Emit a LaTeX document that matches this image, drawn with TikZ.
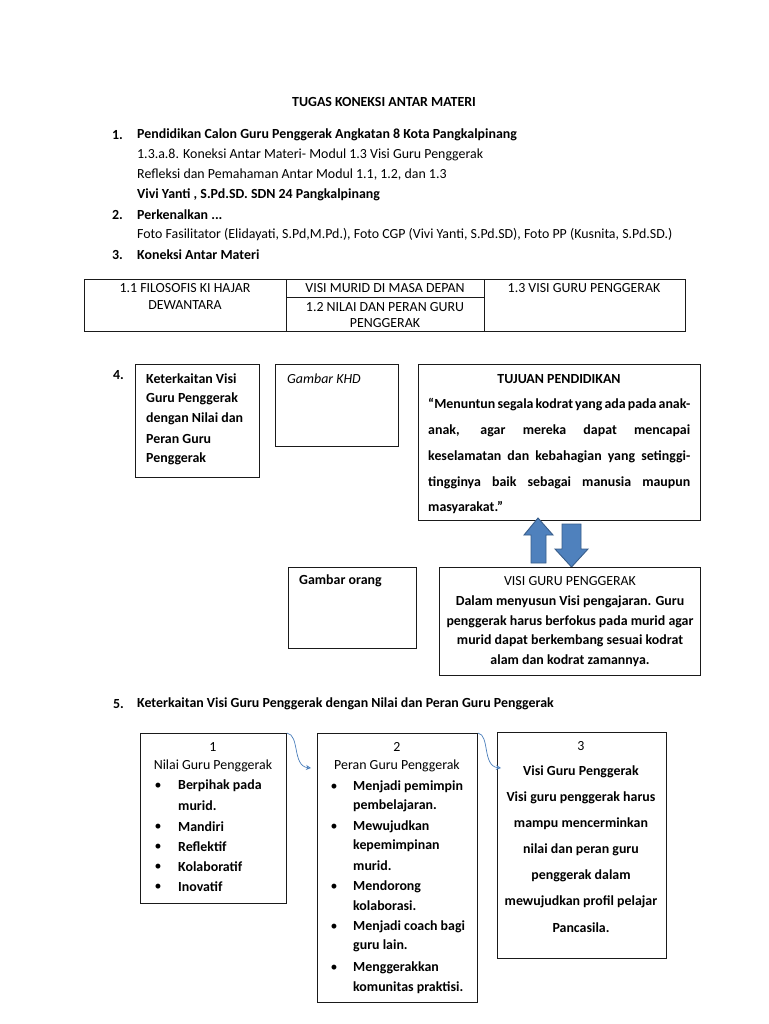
\documentclass[tikz,border=0pt]{standalone}
\usepackage{fontspec}
\setmainfont{Carlito}
\usetikzlibrary{arrows.meta}
\definecolor{boxline}{HTML}{1A1A1A}
\definecolor{arrfill}{HTML}{4F81BD}
\definecolor{arrline}{HTML}{385D8A}
\definecolor{curvecol}{HTML}{4A7EBB}
\newcommand\fsz{\fontsize{13.9}{16}\selectfont}
\tikzset{
  txt/.style={anchor=west, inner sep=0pt, font=\fsz},
  btxt/.style={anchor=west, inner sep=0pt, font=\fsz\bfseries},
  ctxt/.style={anchor=center, inner sep=0pt, font=\fsz},
  cbtxt/.style={anchor=center, inner sep=0pt, font=\fsz\bfseries},
  bx/.style={draw=boxline, line width=0.9pt, anchor=north west, inner sep=0pt},
  blockarrow/.style={fill=arrfill, draw=arrline, line width=0.9pt, line join=miter},
  curvearrow/.style={draw=curvecol, line width=0.7pt, -{Stealth[length=5pt,width=5pt,open]}},
  bul/.style={anchor=center, inner sep=0pt, font=\fsz},
}
\begin{document}
\begin{tikzpicture}[x=1pt,y=-1pt]
\useasboundingbox[fill=white] (0,0) rectangle (768,1024);

% Title
\node[cbtxt] (title) at (384,102) {TUGAS KONEKSI ANTAR MATERI};

% Section 1-3
\node[btxt] (n1) at (112,135) {1.};
\node[btxt] (l1) at (137,135) {Pendidikan Calon Guru Penggerak Angkatan 8 Kota Pangkalpinang};
\node[txt] (l2) at (137,155) {1.3.a.8. Koneksi Antar Materi- Modul 1.3 Visi Guru Penggerak};
\node[txt] (l3) at (137,175) {Refleksi dan Pemahaman Antar Modul 1.1, 1.2, dan 1.3};
\node[btxt] (l4) at (137,195) {Vivi Yanti , S.Pd.SD. SDN 24 Pangkalpinang};
\node[btxt] (n2) at (112,215) {2.};
\node[btxt] (l5) at (137,215) {Perkenalkan ...};
\node[txt] (l6) at (137,235) {Foto Fasilitator (Elidayati, S.Pd,M.Pd.), Foto CGP (Vivi Yanti, S.Pd.SD), Foto PP (Kusnita, S.Pd.SD.)};
\node[btxt] (n3) at (112,255) {3.};
\node[btxt] (l7) at (137,255) {Koneksi Antar Materi};

% Table
\node[bx, minimum width=202pt, minimum height=52pt] (t1) at (84,279) {};
\node[bx, minimum width=198pt, minimum height=18pt] (t2a) at (286,279) {};
\node[bx, minimum width=198pt, minimum height=34pt] (t2b) at (286,297) {};
\node[bx, minimum width=201pt, minimum height=52pt] (t3) at (484,279) {};
\node[ctxt] (t1a) at (185,288) {1.1 FILOSOFIS KI HAJAR};
\node[ctxt] (t1b) at (185,305) {DEWANTARA};
\node[ctxt] (t2at) at (385,288) {VISI MURID DI MASA DEPAN};
\node[ctxt] (t2bt) at (385,307) {1.2 NILAI DAN PERAN GURU};
\node[ctxt] (t2bu) at (385,323) {PENGGERAK};
\node[ctxt] (t3t) at (584,288) {1.3 VISI GURU PENGGERAK};

% Section 4
\node[btxt] (n4) at (113,375) {4.};
\node[bx, minimum width=124pt, minimum height=113pt] (ba) at (135,364) {};
\node[btxt] (ba1) at (146,379) {Keterkaitan Visi};
\node[btxt] (ba2) at (146,399) {Guru Penggerak};
\node[btxt] (ba3) at (146,419) {dengan Nilai dan};
\node[btxt] (ba4) at (146,439) {Peran Guru};
\node[btxt] (ba5) at (146,459) {Penggerak};

\node[bx, minimum width=123pt, minimum height=82pt] (bb) at (275,364) {};
\node[txt, font=\fsz\itshape] (bb1) at (287,379) {Gambar KHD};

\node[bx, minimum width=282pt, minimum height=156pt] (bc) at (418,364) {};
\node[cbtxt] (bc0) at (559,379) {TUJUAN PENDIDIKAN};
\node[btxt] (bc1) at (428,405) {\makebox[262pt][s]{“Menuntun segala kodrat yang ada pada anak-}};
\node[btxt] (bc2) at (428,431) {\makebox[262pt][s]{anak, agar mereka dapat mencapai}};
\node[btxt] (bc3) at (428,457) {\makebox[262pt][s]{keselamatan dan kebahagian yang setinggi-}};
\node[btxt] (bc4) at (428,483) {\makebox[262pt][s]{tingginya baik sebagai manusia maupun}};
\node[btxt] (bc5) at (428,508) {masyarakat.”};

% Block arrows
\draw[blockarrow] (538,518) -- (553,535) -- (546,535) -- (546,563) -- (531,563) -- (531,535) -- (524,535) -- cycle;
\draw[blockarrow] (571.5,567) -- (588,549) -- (581,549) -- (581,524) -- (562,524) -- (562,549) -- (555,549) -- cycle;

\node[bx, minimum width=128pt, minimum height=81pt] (bd) at (288,567) {};
\node[btxt] (bd1) at (299,581) {Gambar orang};

\node[bx, minimum width=261pt, minimum height=108pt] (be) at (439,567) {};
\node[ctxt] (be0) at (570,581) {VISI GURU PENGGERAK};
\node[cbtxt] (be1) at (570,602) {Dalam menyusun Visi pengajaran. Guru};
\node[cbtxt] (be2) at (570,622) {penggerak harus berfokus pada murid agar};
\node[cbtxt] (be3) at (570,641) {murid dapat berkembang sesuai kodrat};
\node[cbtxt] (be4) at (570,661) {alam dan kodrat zamannya.};

% Section 5
\node[btxt] (n5) at (113,704) {5.};
\node[btxt] (l8) at (137,704) {Keterkaitan Visi Guru Penggerak dengan Nilai dan Peran Guru Penggerak};

% Box 1
\node[bx, minimum width=146pt, minimum height=170pt] (k1) at (140,733) {};
\node[ctxt] (k1n) at (213,747) {1};
\node[ctxt] (k1t) at (213,766) {Nilai Guru Penggerak};
\foreach \yy in {786,827,847,867,887} \node[bul] at (158,\yy) {\textbullet};
\node[btxt] (k1a) at (178,786) {Berpihak pada};
\node[btxt] (k1b) at (178,806) {murid.};
\node[btxt] (k1c) at (178,827) {Mandiri};
\node[btxt] (k1d) at (178,847) {Reflektif};
\node[btxt] (k1e) at (178,867) {Kolaboratif};
\node[btxt] (k1f) at (178,887) {Inovatif};

% Box 2
\node[bx, minimum width=160pt, minimum height=269pt] (k2) at (317,733) {};
\node[ctxt] (k2n) at (397,747) {2};
\node[ctxt] (k2t) at (397,766) {Peran Guru Penggerak};
\foreach \yy in {787,827,887,927,968} \node[bul] at (334,\yy) {\textbullet};
\node[btxt] (k2a) at (353,787) {Menjadi pemimpin};
\node[btxt] (k2b) at (353,806) {pembelajaran.};
\node[btxt] (k2c) at (353,827) {Mewujudkan};
\node[btxt] (k2d) at (353,846) {kepemimpinan};
\node[btxt] (k2e) at (353,866) {murid.};
\node[btxt] (k2f) at (353,887) {Mendorong};
\node[btxt] (k2g) at (353,906) {kolaborasi.};
\node[btxt] (k2h) at (353,927) {Menjadi coach bagi};
\node[btxt] (k2i) at (353,946) {guru lain.};
\node[btxt] (k2j) at (353,968) {Menggerakkan};
\node[btxt] (k2k) at (353,988) {komunitas praktisi.};

% Box 3
\node[bx, minimum width=169pt, minimum height=226pt] (k3) at (497,732) {};
\node[ctxt] (k3n) at (581,746) {3};
\node[cbtxt] (k3a) at (581,772) {Visi Guru Penggerak};
\node[cbtxt] (k3b) at (581,798) {Visi guru penggerak harus};
\node[cbtxt] (k3c) at (581,824) {mampu mencerminkan};
\node[cbtxt] (k3d) at (581,850) {nilai dan peran guru};
\node[cbtxt] (k3e) at (581,876) {penggerak dalam};
\node[cbtxt] (k3f) at (581,902) {mewujudkan profil pelajar};
\node[cbtxt] (k3g) at (581,928) {Pancasila.};

% Curved connectors
\coordinate (c1) at (311,768);
\coordinate (c2) at (501,768);
\draw[curvearrow] (k1.north east) .. controls (300,735) and (292,766) .. (c1);
\draw[curvearrow] (k2.north east) .. controls (490,735) and (482,766) .. (c2);
\end{tikzpicture}
\end{document}
